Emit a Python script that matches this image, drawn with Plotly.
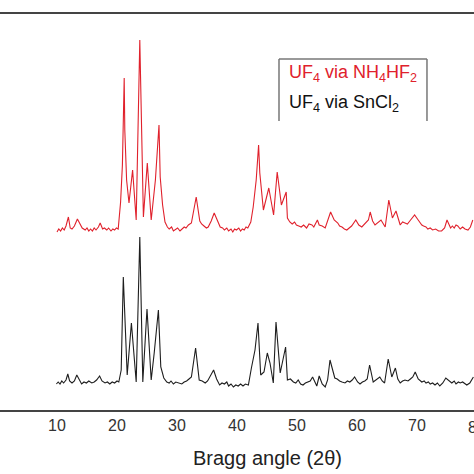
import plotly.graph_objects as go

# Red pattern: UF4 via NH4HF2 (offset trace)
red_x = [10.0, 10.3, 10.6, 10.9, 11.2, 11.5, 11.9, 12.2, 12.5, 12.9, 13.4, 13.8, 14.2, 14.7, 15.0, 15.3, 15.6, 15.9,
         16.2, 16.5, 16.9, 17.2, 17.6, 17.9, 18.3, 18.6, 19.0, 19.3, 19.6, 19.9, 20.2,
         20.6, 20.9, 21.2, 21.3, 21.6, 22.0, 22.6, 23.2, 23.8, 24.4, 25.05, 25.7, 26.4, 27.0, 27.2, 27.6, 28.0, 28.4,
         28.7, 29.1, 29.4, 29.8, 30.1, 30.5, 30.8, 31.2, 31.5, 31.9, 32.4, 33.2, 33.8, 34.1, 34.5, 34.9, 35.2, 35.7,
         36.2, 36.7, 37.2, 37.6, 37.9, 38.3, 38.6, 39.0, 39.3, 39.6, 39.9, 40.3, 40.6, 40.9, 41.2, 41.5, 41.8, 42.3,
         42.7, 43.2, 43.6, 43.8, 44.4, 45.3, 46.1, 46.7, 47.4, 48.2, 48.4, 48.8, 49.2, 49.6, 49.9, 50.3, 50.7, 51.1,
         51.6, 52.0, 52.5, 52.8, 53.1, 53.4, 53.7, 54.2, 54.7, 55.2, 55.6, 56.2, 56.8, 57.1, 57.5, 57.9, 58.3, 58.7,
         59.1, 59.8, 60.3, 60.8, 61.1, 61.5, 61.9, 62.2, 62.6, 63.0, 63.5, 64.0, 64.7, 65.3, 65.9, 66.5, 67.2, 67.6,
         68.0, 68.4, 68.8, 69.2, 69.6, 70.2, 70.8, 71.1, 71.5, 71.8, 72.2, 72.6, 73.1, 73.6, 74.1, 74.6, 75.0, 75.6,
         75.9, 76.2, 76.5, 76.8, 77.2, 77.6, 78.0, 78.5, 78.9, 79.3]
red_y = [178, 181, 179, 182, 180, 184, 193, 182, 181, 184, 191, 186, 182, 180, 182, 179, 181, 179,
         182, 180, 183, 187, 181, 182, 180, 182, 179, 181, 180, 182, 181,
         208, 245, 332, 280, 230, 207, 240, 190, 370, 193, 247, 190, 230, 285, 233, 205, 188, 183,
         181, 183, 179, 181, 182, 179, 181, 183, 182, 185, 187, 213, 189, 186, 184, 182, 183, 189,
         197, 190, 183, 182, 180, 182, 179, 181, 178, 181, 180, 182, 179, 181, 180, 183, 182, 188,
         203, 230, 265, 237, 200, 222, 195, 238, 205, 218, 192, 188, 186, 188, 185, 184, 183, 185,
         182, 186, 185, 183, 186, 190, 185, 184, 182, 190, 198, 190, 187, 184, 183, 181, 180, 182,
         184, 190, 185, 183, 185, 187, 190, 198, 189, 185, 188, 190, 183, 210, 192, 199, 185, 188,
         187, 186, 189, 192, 195, 190, 185, 184, 183, 181, 182, 180, 181, 179, 179, 182, 190, 182,
         184, 182, 185, 184, 181, 183, 181, 180, 183, 190]

# Black pattern: UF4 via SnCl2
blk_x = [9.9, 10.2, 10.5, 10.8, 11.1, 11.5, 11.8, 12.1, 12.5, 12.9, 13.3, 13.7, 14.1, 14.5, 14.9, 15.3, 15.8, 16.2,
         16.6, 17.1, 17.5, 18.0, 18.4, 18.8, 19.2, 19.6, 20.0, 20.3, 20.7,
         21.05, 21.7, 22.4, 23.2, 23.8, 24.3, 25.0, 25.7, 26.2, 26.9, 27.3, 27.8, 28.3, 28.7, 29.0, 29.4, 29.8, 30.3,
         30.8, 31.2, 31.6, 32.0, 32.4, 33.1, 33.7, 34.2, 34.7, 35.1, 35.4, 36.1, 36.6, 37.1, 37.5, 37.9, 38.3, 38.6,
         39.0, 39.4, 39.8, 40.2, 40.6, 41.0, 41.4, 41.9, 42.4, 43.0, 43.5, 43.95, 44.5, 45.05, 45.5, 46.05, 46.5, 47.2,
         48.1, 48.4, 48.9, 49.4, 49.8, 50.2, 50.6, 51.0, 51.4, 51.8, 52.2, 52.6, 53.0, 53.3, 53.7, 54.2, 54.7, 55.1,
         55.5, 56.3, 56.7, 57.1, 57.5, 58.0, 58.4, 58.8, 59.2, 59.6, 60.1, 60.5, 60.9, 61.3, 61.7, 62.1, 62.7, 63.2,
         63.8, 64.2, 64.6, 65.2, 65.8, 66.4, 66.8, 67.2, 67.6, 68.0, 68.5, 68.9, 69.3, 69.7, 70.2, 70.8, 71.2, 71.5,
         71.9, 72.2, 72.6, 73.0, 73.4, 73.8, 74.3, 74.8, 75.3, 75.8, 76.2, 76.5, 76.9, 77.2, 77.6, 78.0, 78.3, 78.8,
         79.4]
blk_y = [26, 28, 26, 29, 27, 30, 36, 29, 27, 29, 35, 30, 26, 28, 27, 29, 27, 28,
         30, 34, 29, 27, 28, 26, 28, 27, 29, 28, 40,
         133, 35, 87, 28, 173, 28, 101, 30, 57, 100, 43, 32, 28, 27, 29, 26, 28, 27,
         26, 28, 29, 31, 33, 62, 30, 29, 27, 29, 32, 40, 31, 25, 27, 26, 28, 24,
         26, 23, 25, 24, 26, 24, 26, 25, 42, 60, 87, 35, 38, 57, 47, 27, 88, 37,
         63, 30, 31, 28, 27, 30, 26, 25, 27, 28, 29, 33, 27, 24, 34, 26, 23, 30,
         50, 32, 31, 29, 28, 27, 29, 28, 30, 33, 28, 26, 28, 29, 31, 45, 28, 30,
         33, 29, 27, 51, 33, 42, 31, 27, 29, 30, 29, 31, 33, 38, 31, 28, 29, 27,
         28, 26, 27, 25, 27, 24, 27, 32, 29, 27, 29, 26, 28, 27, 28, 26, 25, 27,
         33]

x_ticks = [10, 20, 30, 40, 50, 60, 70, 80]
x_title = "Bragg angle (2θ)"
legend_red = "UF<sub>4</sub> via NH<sub>4</sub>HF<sub>2</sub>"
legend_blk = "UF<sub>4</sub> via SnCl<sub>2</sub>"

RED = "#e0212c"
BLK = "#1e1e1e"
FONT = "Liberation Sans, Arial, sans-serif"
X_LO, X_HI = 0.5, 79.5

fig = go.Figure()
fig.add_trace(go.Scatter(x=red_x, y=red_y, mode="lines", line=dict(color=RED, width=1.1), showlegend=False))
fig.add_trace(go.Scatter(x=blk_x, y=blk_y, mode="lines", line=dict(color=BLK, width=1.1), showlegend=False))

fig.update_layout(
    width=474, height=474,
    margin=dict(l=0, r=0, t=14, b=64),
    paper_bgcolor="white", plot_bgcolor="white",
    font=dict(family=FONT, color="#333"),
    xaxis=dict(range=[X_LO, X_HI], tickvals=x_ticks, ticktext=[str(v) for v in x_ticks],
               showgrid=False, zeroline=False, showline=True, mirror=True,
               linecolor="#444", linewidth=1.6, ticks="", tickfont=dict(size=16, color="#333")),
    yaxis=dict(range=[0, 396], showgrid=False, zeroline=False, showline=False,
               showticklabels=False, ticks=""),
)

# the last tick label lies just past the right edge of the plot area (partly cut in the reference)
last = x_ticks[-1]
fig.add_annotation(x=(last - X_LO) / (X_HI - X_LO), xref="paper", y=0, yref="paper", yshift=-17,
                   text=str(last), showarrow=False, xanchor="center", yanchor="middle",
                   font=dict(size=16, color="#333", family=FONT))

fig.add_annotation(x=45, xref="x", y=-0.121, yref="paper", text=x_title, showarrow=False,
                   font=dict(size=20, color="#222", family=FONT), xanchor="center", yanchor="middle")

# legend box (three sides)
x0, x1, y0, y1 = 0.5886, 0.9008, 0.7298, 0.8864
for a, b, c, d in [(x0, y1, x1, y1), (x0, y0, x0, y1), (x1, y0, x1, y1)]:
    fig.add_shape(type="line", xref="paper", yref="paper", x0=a, y0=b, x1=c, y1=d,
                  line=dict(color="#777", width=1.5))

fig.add_annotation(x=0.6055, y=0.851, xref="paper", yref="paper", text=legend_red, showarrow=False,
                   xanchor="left", yanchor="middle", font=dict(size=18, color=RED, family=FONT))
fig.add_annotation(x=0.6055, y=0.775, xref="paper", yref="paper", text=legend_blk, showarrow=False,
                   xanchor="left", yanchor="middle", font=dict(size=18, color="#111", family=FONT))

fig.write_html("out.html")
